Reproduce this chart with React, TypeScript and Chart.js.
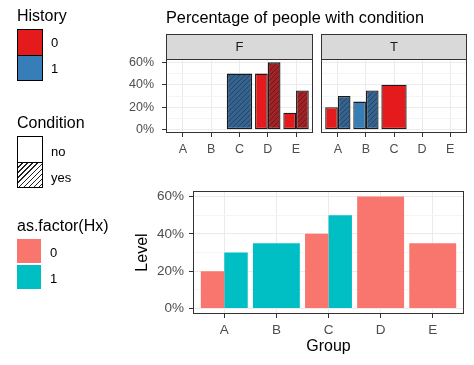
import React, { useEffect, useRef } from 'react';
import { Chart, registerables } from 'chart.js';

Chart.register(...registerables);

const FONT = '"Liberation Sans", Arial, Helvetica, sans-serif';
const W = 474;
const H = 365;

// ---- data ----
const categories = ['A', 'B', 'C', 'D', 'E'];
const yMajorTicks = [0, 20, 40, 60];
const yTickLabels = ['0%', '20%', '40%', '60%'];
const yMinorTicks = [10, 30, 50];
const facetLabels = ['F', 'T'];
const historyLevels = ['0', '1'];
const conditionLevels = ['no', 'yes'];
const hxLevels = ['0', '1'];

// Facet F (percentage of people with condition)
const fNoValues = [null, null, null, 50, 15];
const fNoHistory = [null, null, null, 0, 0];
const fYesValues = [null, null, 50, 60, 35];
const fYesHistory = [null, null, 1, 0, 0];
// Facet T
const tNoValues = [20, 25, 40, null, null];
const tNoHistory = [0, 1, 0, null, null];
const tYesValues = [30, 35, null, null, null];
const tYesHistory = [1, 1, null, null, null];
// Bottom panel: Level by Group and as.factor(Hx)
const hx0Levels = [20, null, 40, 60, 35];
const hx1Levels = [30, 35, 50, null, null];

// ---- styles ----
const HIST_COLORS = ['#E41A1C', '#377EB8'];
const HATCH_BASE = ['#A02328', '#35638E'];
const HATCH_LINE = ['#701619', '#22466A'];
const HX_COLORS = ['#F8766D', '#00BFC4'];

function makeHatch(base: string, line: string) {
  const size = 5;
  const c = document.createElement('canvas');
  c.width = size;
  c.height = size;
  const g = c.getContext('2d')!;
  g.fillStyle = base;
  g.fillRect(0, 0, size, size);
  g.strokeStyle = line;
  g.lineWidth = 1;
  g.beginPath();
  g.moveTo(0, size);
  g.lineTo(size, 0);
  g.moveTo(-1, 1);
  g.lineTo(1, -1);
  g.moveTo(size - 1, size + 1);
  g.lineTo(size + 1, size - 1);
  g.stroke();
  return g.createPattern(c, 'repeat')!;
}

const toPoints = (vals: (number | null)[]) => vals.map((y, i) => ({ x: i + 1, y }));

const framePlugin = {
  id: 'frame',
  afterDatasetsDraw(chart: any, _args: any, opts: any) {
    const { ctx, chartArea: a } = chart;
    ctx.save();
    ctx.strokeStyle = '#333333';
    ctx.lineWidth = 1;
    ctx.strokeRect(a.left + 0.5, a.top + 0.5, a.right - a.left - 1, a.bottom - a.top - 1);
    if (opts && opts.strip) {
      const sh = 25;
      ctx.fillStyle = '#D9D9D9';
      ctx.fillRect(a.left, a.top - sh, a.right - a.left, sh);
      ctx.strokeRect(a.left + 0.5, a.top - sh + 0.5, a.right - a.left - 1, sh);
      ctx.fillStyle = '#1A1A1A';
      ctx.font = `13px ${FONT}`;
      ctx.textAlign = 'center';
      ctx.textBaseline = 'middle';
      ctx.fillText(opts.strip, (a.left + a.right) / 2, a.top - sh / 2 + 1);
    }
    ctx.restore();
  },
};

type PanelCfg = {
  datasets: any[];
  area: { left: number; top: number; right: number; bottom: number };
  yWidth: number;
  xHeight: number;
  showYLabels: boolean;
  showYTickMarks: boolean;
  tickFontSize: number;
  xTickPad: number;
  yTickPad: number;
  strip?: string;
  xTitle?: string;
  yTitle?: string;
};

function buildPanel(canvas: HTMLCanvasElement, cfg: PanelCfg) {
  const isMinor = (v: number) => yMinorTicks.includes(v);
  const allY = [...yMajorTicks, ...yMinorTicks].sort((a, b) => a - b);
  return new Chart(canvas, {
    type: 'bar',
    data: { datasets: cfg.datasets },
    options: {
      responsive: false,
      maintainAspectRatio: false,
      animation: false,
      devicePixelRatio: 1,
      layout: {
        padding: {
          left: cfg.area.left - cfg.yWidth,
          top: cfg.area.top,
          right: W - cfg.area.right,
          bottom: H - cfg.area.bottom - cfg.xHeight,
        },
      },
      plugins: {
        legend: { display: false },
        tooltip: { enabled: false },
        frame: { strip: cfg.strip },
      } as any,
      scales: {
        x: {
          type: 'linear',
          min: 0.4,
          max: categories.length + 0.6,
          offset: false,
          bounds: 'data',
          afterBuildTicks: (s: any) => {
            s.ticks = categories.map((_, i) => ({ value: i + 1 }));
          },
          afterFit: (s: any) => {
            s.height = cfg.xHeight;
          },
          ticks: {
            autoSkip: false,
            maxRotation: 0,
            color: '#4D4D4D',
            font: { family: FONT, size: cfg.tickFontSize },
            padding: cfg.xTickPad,
            callback: (v: any) => categories[Math.round(Number(v)) - 1] ?? '',
          },
          grid: {
            offset: false,
            color: '#EBEBEB',
            lineWidth: 1,
            tickColor: '#333333',
            tickLength: 4,
            drawTicks: true,
          },
          border: { display: false },
          title: cfg.xTitle
            ? {
                display: true,
                text: cfg.xTitle,
                color: '#000000',
                font: { family: FONT, size: 16 },
                padding: { top: 0, bottom: 0 },
              }
            : { display: false },
        } as any,
        y: {
          type: 'linear',
          min: -3,
          max: 63,
          bounds: 'data',
          afterBuildTicks: (s: any) => {
            s.ticks = allY.map((v) => ({ value: v }));
          },
          afterFit: (s: any) => {
            s.width = cfg.yWidth;
          },
          ticks: {
            display: cfg.showYLabels,
            autoSkip: false,
            color: '#4D4D4D',
            font: { family: FONT, size: cfg.tickFontSize },
            padding: cfg.yTickPad,
            callback: (v: any) => {
              const i = yMajorTicks.indexOf(Number(v));
              return i >= 0 ? yTickLabels[i] : '';
            },
          },
          grid: {
            color: (ctx: any) => (ctx.tick && isMinor(ctx.tick.value) ? '#F4F4F4' : '#EBEBEB'),
            lineWidth: 1,
            tickColor: (ctx: any) =>
              cfg.showYTickMarks && ctx.tick && !isMinor(ctx.tick.value) ? '#333333' : 'rgba(0,0,0,0)',
            tickLength: 4,
            drawTicks: cfg.showYTickMarks,
          },
          border: { display: false },
          title: cfg.yTitle
            ? {
                display: true,
                text: cfg.yTitle,
                color: '#000000',
                font: { family: FONT, size: 16 },
                padding: { top: 1, bottom: 0 },
              }
            : { display: false },
        } as any,
      },
    },
    plugins: [framePlugin as any],
  });
}

function facetDatasets(
  noVals: (number | null)[],
  noHist: (number | null)[],
  yesVals: (number | null)[],
  yesHist: (number | null)[],
  hatches: CanvasPattern[]
) {
  const common = {
    borderColor: '#1A1A1A',
    borderWidth: 1.3,
    borderSkipped: false,
    skipNull: true,
    categoryPercentage: 0.9,
    barPercentage: 1,
  };
  return [
    {
      label: conditionLevels[0],
      data: toPoints(noVals),
      backgroundColor: noHist.map((h) => (h == null ? 'rgba(0,0,0,0)' : HIST_COLORS[h])),
      ...common,
    },
    {
      label: conditionLevels[1],
      data: toPoints(yesVals),
      backgroundColor: yesHist.map((h) => (h == null ? 'rgba(0,0,0,0)' : hatches[h])),
      ...common,
    },
  ];
}

function Charts() {
  const refF = useRef<HTMLCanvasElement>(null);
  const refT = useRef<HTMLCanvasElement>(null);
  const refB = useRef<HTMLCanvasElement>(null);

  useEffect(() => {
    const hatches = [makeHatch(HATCH_BASE[0], HATCH_LINE[0]), makeHatch(HATCH_BASE[1], HATCH_LINE[1])];
    const cF = buildPanel(refF.current!, {
      datasets: facetDatasets(fNoValues, fNoHistory, fYesValues, fYesHistory, hatches),
      area: { left: 166, top: 59, right: 313, bottom: 133 },
      yWidth: 50,
      xHeight: 30,
      showYLabels: true,
      showYTickMarks: true,
      tickFontSize: 12.5,
      xTickPad: 5,
      yTickPad: 8,
      strip: facetLabels[0],
    });
    const cT = buildPanel(refT.current!, {
      datasets: facetDatasets(tNoValues, tNoHistory, tYesValues, tYesHistory, hatches),
      area: { left: 321, top: 59, right: 467, bottom: 133 },
      yWidth: 0,
      xHeight: 30,
      showYLabels: false,
      showYTickMarks: false,
      tickFontSize: 12.5,
      xTickPad: 5,
      yTickPad: 0,
      strip: facetLabels[1],
    });
    const common = { skipNull: true, categoryPercentage: 0.9, barPercentage: 1, borderWidth: 0 };
    const cB = buildPanel(refB.current!, {
      datasets: [
        { label: hxLevels[0], data: toPoints(hx0Levels), backgroundColor: HX_COLORS[0], ...common },
        { label: hxLevels[1], data: toPoints(hx1Levels), backgroundColor: HX_COLORS[1], ...common },
      ],
      area: { left: 193, top: 191, right: 464, bottom: 314 },
      yWidth: 61,
      xHeight: 42,
      showYLabels: true,
      showYTickMarks: true,
      tickFontSize: 13.5,
      xTickPad: 4,
      yTickPad: 5,
      xTitle: 'Group',
      yTitle: 'Level',
    });
    return () => {
      cF.destroy();
      cT.destroy();
      cB.destroy();
    };
  }, []);

  const cs: React.CSSProperties = { position: 'absolute', left: 0, top: 0, width: W, height: H };
  return (
    <>
      <canvas ref={refF} width={W} height={H} style={cs} />
      <canvas ref={refT} width={W} height={H} style={cs} />
      <canvas ref={refB} width={W} height={H} style={cs} />
    </>
  );
}

function Txt({ x, baseline, size, children, color = '#000' }: any) {
  return (
    <div
      style={{
        position: 'absolute',
        left: x,
        top: baseline - 0.8465 * size,
        fontFamily: FONT,
        fontSize: size,
        lineHeight: 1,
        color,
        whiteSpace: 'nowrap',
      }}
    >
      {children}
    </div>
  );
}

function Box({ x, y, w, h, bg, border }: any) {
  return (
    <div
      style={{
        position: 'absolute',
        left: x,
        top: y,
        width: w,
        height: h,
        boxSizing: 'border-box',
        background: bg,
        border: border ? '1px solid #000' : 'none',
      }}
    />
  );
}

export default function App() {
  const hatchCss = 'repeating-linear-gradient(135deg, #ffffff 0px, #ffffff 2.6px, #222222 2.6px, #222222 3.6px)';
  return (
    <div style={{ position: 'fixed', left: 0, top: 0, width: W, height: H, background: '#ffffff', overflow: 'hidden' }}>
      <Charts />
      <Txt x={166} baseline={23} size={16.3}>Percentage of people with condition</Txt>

      <Txt x={17} baseline={21.5} size={16}>History</Txt>
      <Box x={17} y={29} w={26} h={27} bg={HIST_COLORS[0]} border />
      <Box x={17} y={55} w={26} h={26} bg={HIST_COLORS[1]} border />
      <Txt x={51} baseline={47.5} size={13}>{historyLevels[0]}</Txt>
      <Txt x={51} baseline={73} size={13}>{historyLevels[1]}</Txt>

      <Txt x={17} baseline={128.5} size={16}>Condition</Txt>
      <Box x={17} y={136} w={26} h={27} bg="#ffffff" border />
      <Box x={17} y={162} w={26} h={26} bg={hatchCss} border />
      <Txt x={51} baseline={156} size={13}>{conditionLevels[0]}</Txt>
      <Txt x={51} baseline={182} size={13}>{conditionLevels[1]}</Txt>

      <Txt x={17} baseline={232} size={16}>as.factor(Hx)</Txt>
      <Box x={17} y={239} w={24} h={24} bg={HX_COLORS[0]} />
      <Box x={17} y={265} w={24} h={24} bg={HX_COLORS[1]} />
      <Txt x={50} baseline={257.5} size={13}>{hxLevels[0]}</Txt>
      <Txt x={50} baseline={283} size={13}>{hxLevels[1]}</Txt>
    </div>
  );
}
